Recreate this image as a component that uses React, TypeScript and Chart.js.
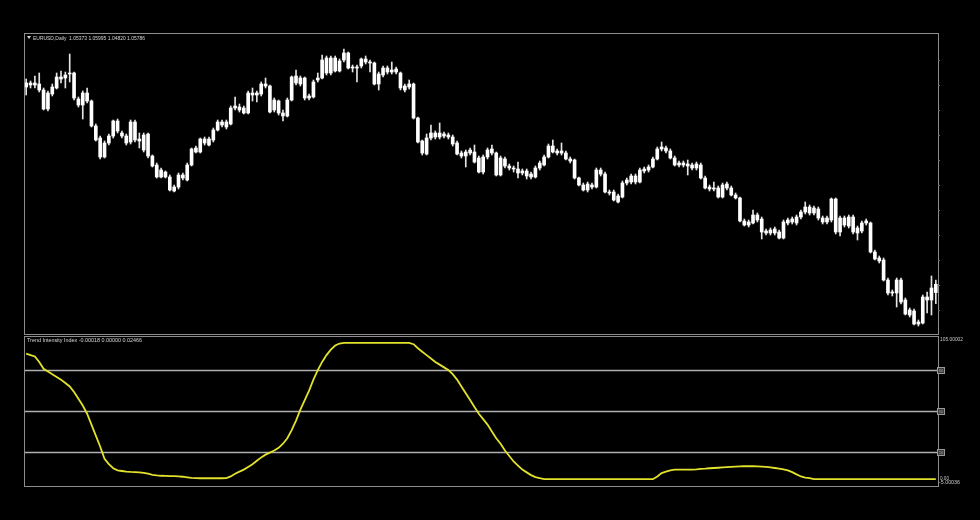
import React, { useEffect, useRef } from "react";
import { Chart, registerables } from "chart.js";

Chart.register(...registerables);

const symbolTitle = "EURUSD,Daily";
const lastBar = ["1.05373", "1.05995", "1.04820", "1.05786"];
const indicatorName = "Trend Intensity Index";
const indicatorValues = ["-0.00018", "0.00000", "0.02466"];

const opens = [
  1.1565, 1.1575, 1.1585, 1.158, 1.155, 1.1535, 1.153, 1.156, 1.1605, 1.161,
  1.163, 1.1635, 1.1505, 1.1475, 1.1495, 1.1495, 1.137, 1.131, 1.1285, 1.1285,
  1.132, 1.1395, 1.1335, 1.132, 1.129, 1.139, 1.1305, 1.125, 1.133, 1.122,
  1.1175, 1.1115, 1.114, 1.1115, 1.1065, 1.1065, 1.1125, 1.11, 1.1175, 1.124,
  1.124, 1.1305, 1.1275, 1.13, 1.135, 1.139, 1.139, 1.138, 1.146, 1.1465,
  1.146, 1.1435, 1.1535, 1.1525, 1.153, 1.158, 1.157, 1.145, 1.1495, 1.1435,
  1.142, 1.15, 1.1585, 1.161, 1.161, 1.152, 1.1515, 1.16, 1.161, 1.171,
  1.1635, 1.171, 1.1645, 1.17, 1.1735, 1.1665, 1.166, 1.167, 1.1705, 1.169,
  1.1685, 1.158, 1.1625, 1.166, 1.164, 1.1655, 1.1635, 1.157, 1.1565, 1.158,
  1.141, 1.1295, 1.123, 1.131, 1.1335, 1.1315, 1.133, 1.1325, 1.1315, 1.1285,
  1.1235, 1.122, 1.1235, 1.124, 1.121, 1.114, 1.1215, 1.1235, 1.1235, 1.1125,
  1.1205, 1.117, 1.116, 1.1155, 1.1135, 1.1145, 1.113, 1.1115, 1.116, 1.1175,
  1.1215, 1.127, 1.1245, 1.1235, 1.1235, 1.1205, 1.12, 1.111, 1.1075, 1.105,
  1.1075, 1.1065, 1.115, 1.113, 1.104, 1.104, 1.102, 1.1015, 1.1085, 1.109,
  1.112, 1.109, 1.1145, 1.115, 1.1165, 1.1205, 1.1255, 1.126, 1.1245, 1.121,
  1.1185, 1.1175, 1.118, 1.1175, 1.116, 1.1175, 1.111, 1.1065, 1.1055, 1.106,
  1.1015, 1.106, 1.106, 1.1025, 1.101, 1.0895, 1.0875, 1.0885, 1.0925, 1.0905,
  1.0845, 1.0835, 1.0835, 1.084, 1.081, 1.0885, 1.089, 1.0885, 1.0915, 1.094,
  1.0965, 1.0935, 1.0955, 1.091, 1.089, 1.09, 1.1005, 1.084, 1.091, 1.087,
  1.0915, 1.086, 1.0845, 1.0885, 1.0885, 1.074, 1.071, 1.07, 1.06, 1.054,
  1.0535, 1.06, 1.05, 1.045, 1.0445, 1.039, 1.0385, 1.0515, 1.05, 1.05373,
];

const highs = [
  1.1605, 1.1595, 1.162, 1.1635, 1.156, 1.1545, 1.158, 1.1635, 1.1645, 1.164,
  1.173, 1.164, 1.1515, 1.1545, 1.156, 1.15, 1.138, 1.132, 1.1295, 1.133,
  1.14, 1.1405, 1.1345, 1.133, 1.14, 1.14, 1.1335, 1.1335, 1.1335, 1.1225,
  1.1185, 1.116, 1.1145, 1.1125, 1.1075, 1.1135, 1.1135, 1.1185, 1.126, 1.127,
  1.131, 1.1315, 1.1315, 1.136, 1.14, 1.14, 1.14, 1.147, 1.1515, 1.148,
  1.147, 1.1545, 1.156, 1.1545, 1.159, 1.161, 1.1575, 1.151, 1.15, 1.145,
  1.151, 1.162, 1.165, 1.162, 1.1615, 1.153, 1.16, 1.1635, 1.1725, 1.172,
  1.172, 1.172, 1.1705, 1.1755, 1.174, 1.1675, 1.1675, 1.171, 1.172, 1.17,
  1.169, 1.164, 1.167, 1.167, 1.169, 1.1665, 1.164, 1.158, 1.16, 1.1585,
  1.1415, 1.13, 1.133, 1.1375, 1.1345, 1.1385, 1.134, 1.1335, 1.1325, 1.1295,
  1.1245, 1.125, 1.126, 1.1275, 1.122, 1.1225, 1.126, 1.1275, 1.124, 1.122,
  1.1215, 1.118, 1.117, 1.119, 1.1155, 1.1155, 1.114, 1.117, 1.1195, 1.1225,
  1.128, 1.13, 1.1255, 1.1285, 1.1245, 1.1215, 1.1205, 1.1115, 1.1085, 1.109,
  1.1085, 1.116, 1.116, 1.114, 1.105, 1.105, 1.103, 1.1095, 1.111, 1.113,
  1.113, 1.116, 1.1165, 1.1175, 1.1215, 1.1265, 1.129, 1.127, 1.1255, 1.122,
  1.1195, 1.1195, 1.12, 1.1185, 1.119, 1.1185, 1.112, 1.1075, 1.109, 1.107,
  1.1085, 1.109, 1.107, 1.1035, 1.1015, 1.0905, 1.09, 1.095, 1.0935, 1.0915,
  1.0855, 1.086, 1.0865, 1.085, 1.09, 1.091, 1.0915, 1.0925, 1.095, 1.099,
  1.0975, 1.097, 1.0965, 1.092, 1.092, 1.101, 1.101, 1.092, 1.092, 1.0925,
  1.0925, 1.087, 1.0895, 1.0905, 1.089, 1.075, 1.072, 1.071, 1.061, 1.055,
  1.061, 1.061, 1.051, 1.046, 1.0455, 1.04, 1.0525, 1.054, 1.062, 1.05995,
];

const lows = [
  1.1525, 1.156, 1.156, 1.154, 1.145, 1.1445, 1.152, 1.1555, 1.1585, 1.156,
  1.159, 1.15, 1.1465, 1.1405, 1.1485, 1.1365, 1.1295, 1.1205, 1.121, 1.1275,
  1.131, 1.1335, 1.131, 1.1275, 1.128, 1.129, 1.126, 1.124, 1.121, 1.1165,
  1.111, 1.111, 1.111, 1.1045, 1.104, 1.1055, 1.11, 1.1095, 1.117, 1.1235,
  1.1235, 1.1275, 1.127, 1.129, 1.1345, 1.1365, 1.1355, 1.1375, 1.145, 1.144,
  1.143, 1.143, 1.1495, 1.149, 1.152, 1.156, 1.1435, 1.144, 1.1425, 1.1395,
  1.1415, 1.1495, 1.1575, 1.157, 1.15, 1.15, 1.151, 1.159, 1.1605, 1.1625,
  1.1625, 1.164, 1.164, 1.169, 1.1655, 1.164, 1.159, 1.166, 1.168, 1.164,
  1.1575, 1.155, 1.1615, 1.163, 1.163, 1.163, 1.155, 1.154, 1.1555, 1.1405,
  1.1285, 1.1225, 1.1225, 1.13, 1.1305, 1.1305, 1.131, 1.1305, 1.127, 1.1225,
  1.121, 1.1165, 1.1225, 1.1185, 1.1135, 1.113, 1.1205, 1.1225, 1.112, 1.112,
  1.116, 1.115, 1.114, 1.111, 1.1125, 1.1105, 1.1105, 1.111, 1.115, 1.117,
  1.121, 1.1235, 1.1225, 1.1225, 1.12, 1.1185, 1.1105, 1.107, 1.1045, 1.104,
  1.1055, 1.106, 1.112, 1.1035, 1.1025, 1.0995, 1.0985, 1.101, 1.1075, 1.108,
  1.108, 1.1085, 1.1135, 1.114, 1.116, 1.12, 1.1245, 1.1235, 1.1205, 1.117,
  1.1165, 1.1165, 1.1125, 1.115, 1.115, 1.1105, 1.1055, 1.1045, 1.1045, 1.101,
  1.101, 1.105, 1.102, 1.1005, 1.089, 1.087, 1.0865, 1.088, 1.089, 1.0805,
  1.0825, 1.0825, 1.0825, 1.0805, 1.0805, 1.0875, 1.088, 1.0875, 1.0905, 1.093,
  1.0925, 1.0925, 1.09, 1.088, 1.088, 1.089, 1.083, 1.082, 1.0865, 1.086,
  1.083, 1.08, 1.0835, 1.0875, 1.0735, 1.07, 1.0685, 1.0595, 1.0525, 1.052,
  1.0465, 1.048, 1.0425, 1.0415, 1.0375, 1.037, 1.038, 1.0435, 1.0425, 1.0482,
];

const closes = [
  1.1585, 1.1585, 1.1575, 1.155, 1.1455, 1.1455, 1.1565, 1.1615, 1.1615, 1.1625,
  1.1635, 1.151, 1.1475, 1.1535, 1.1535, 1.137, 1.13, 1.1215, 1.1215, 1.132,
  1.1395, 1.1345, 1.132, 1.1285, 1.139, 1.13, 1.1295, 1.1325, 1.122, 1.117,
  1.1115, 1.115, 1.1115, 1.105, 1.1045, 1.1125, 1.111, 1.1175, 1.1255, 1.126,
  1.1305, 1.1285, 1.1305, 1.135, 1.139, 1.1375, 1.1365, 1.146, 1.147, 1.145,
  1.1435, 1.1535, 1.1525, 1.1535, 1.158, 1.157, 1.144, 1.15, 1.1435, 1.142,
  1.15, 1.1615, 1.162, 1.158, 1.151, 1.151, 1.159, 1.161, 1.17, 1.1635,
  1.171, 1.1645, 1.1695, 1.1735, 1.166, 1.166, 1.1665, 1.1705, 1.169, 1.1685,
  1.158, 1.163, 1.166, 1.164, 1.165, 1.164, 1.156, 1.155, 1.158, 1.141,
  1.129, 1.1235, 1.131, 1.1335, 1.1315, 1.1335, 1.132, 1.1315, 1.128, 1.123,
  1.122, 1.124, 1.125, 1.119, 1.114, 1.1215, 1.125, 1.1255, 1.1125, 1.121,
  1.117, 1.116, 1.1155, 1.1135, 1.1145, 1.112, 1.1115, 1.116, 1.1185, 1.1215,
  1.127, 1.124, 1.1235, 1.1245, 1.1205, 1.1195, 1.111, 1.1075, 1.105, 1.108,
  1.1065, 1.115, 1.113, 1.104, 1.1035, 1.1, 1.099, 1.1085, 1.11, 1.112,
  1.109, 1.115, 1.1155, 1.1165, 1.1205, 1.1255, 1.1265, 1.1245, 1.121, 1.1175,
  1.1175, 1.1185, 1.117, 1.116, 1.118, 1.111, 1.106, 1.1055, 1.106, 1.1015,
  1.1075, 1.108, 1.1025, 1.101, 1.0895, 1.0875, 1.089, 1.0925, 1.09, 1.084,
  1.0835, 1.085, 1.0855, 1.081, 1.089, 1.09, 1.0905, 1.0915, 1.094, 1.0965,
  1.0935, 1.096, 1.091, 1.089, 1.091, 1.1005, 1.084, 1.091, 1.0875, 1.0915,
  1.084, 1.0835, 1.0885, 1.0895, 1.074, 1.0705, 1.0695, 1.06, 1.0535, 1.0535,
  1.06, 1.049, 1.043, 1.0425, 1.038, 1.038, 1.0515, 1.05, 1.056, 1.05786,
];

const tii = [
  92, 91, 90, 86, 81, 79, 77, 75, 73, 70.5,
  68, 64, 59, 54, 48, 40, 32, 24, 15, 11,
  8, 6.5, 6, 5.5, 5.3, 5.2, 5, 4.7, 4, 3.2,
  2.8, 2.5, 2.4, 2.3, 2.2, 2, 1.8, 1.4, 1, 0.8,
  0.7, 0.7, 0.7, 0.7, 0.7, 0.7, 0.8, 2, 4, 5.5,
  7, 9, 11, 13.5, 16, 18, 19.5, 21, 23, 26,
  30, 36, 43, 51, 58, 65, 73, 80, 86, 91,
  95, 98, 99.5, 100, 100, 100, 100, 100, 100, 100,
  100, 100, 100, 100, 100, 100, 100, 100, 100, 99,
  96, 93.5, 91, 88.5, 86, 84, 82, 80, 77, 73,
  68, 63, 58, 53, 48, 44, 40, 35, 30, 26,
  21, 17, 13, 10, 7, 5, 3, 1.5, 0.7, 0,
  0, 0, 0, 0, 0, 0, 0, 0, 0, 0,
  0, 0, 0, 0, 0, 0, 0, 0, 0, 0,
  0, 0, 0, 0, 0, 2, 4.5, 5.5, 6.5, 7,
  7, 7, 7, 7, 7.2, 7.5, 7.7, 8, 8.2, 8.4,
  8.6, 8.8, 9, 9.2, 9.4, 9.5, 9.5, 9.5, 9.4, 9.2,
  9, 8.6, 8.2, 7.8, 7.2, 6.5, 5.2, 3.5, 2, 1.2,
  0.8, 0, 0, 0, 0, 0, 0, 0, 0, 0,
  0, 0, 0, 0, 0, 0, 0, 0, 0, 0,
  0, 0, 0, 0, 0, 0, 0, 0, 0, 0,
];

const tiiLevels = [20, 50, 80];
const priceTicks = [1.17, 1.1575, 1.145, 1.1325, 1.12, 1.1075, 1.095, 1.0825, 1.07, 1.0575, 1.045];
const priceMin = 1.033;
const priceMax = 1.1835;
const tiiMax = 105.00002;
const tiiMin = -5.00036;
const tiiScaleLabels = ["105.00002", "0.00", "-5.00036"];

const W = 980;
const H = 520;
const PLOT_LEFT = 24;
const PLOT_RIGHT = 938;
const MAIN_TOP = 33;
const MAIN_BOTTOM = 334;
const IND_TOP = 336;
const IND_BOTTOM = 486;

const FRAME = "#8c8c8c";
const TEXT = "#d6d6d6";
const FONT = '"Liberation Sans", Arial, sans-serif';

const dates = opens.map((_, i) => `D${i + 1}`);

function drawFitText(ctx: CanvasRenderingContext2D, text: string, x: number, y: number, size: number, maxW: number) {
  ctx.font = `${size}px ${FONT}`;
  ctx.fillText(text, x, y, maxW);
}

const mainFramePlugin = {
  id: "mainFrame",
  afterDraw(chart: any) {
    const ctx: CanvasRenderingContext2D = chart.ctx;
    const { left, right, top, bottom } = chart.chartArea;
    ctx.save();
    ctx.strokeStyle = FRAME;
    ctx.lineWidth = 1;
    ctx.strokeRect(Math.round(left) + 0.5, Math.round(top) + 0.5, Math.round(right - left), Math.round(bottom - top));
    const ys = chart.scales.y;
    ctx.strokeStyle = "#6e6e6e";
    priceTicks.forEach((p) => {
      const py = Math.round(ys.getPixelForValue(p)) + 0.5;
      ctx.beginPath();
      ctx.moveTo(right, py);
      ctx.lineTo(right + 2, py);
      ctx.stroke();
    });
    // title
    ctx.fillStyle = TEXT;
    ctx.beginPath();
    ctx.moveTo(left + 3, top + 3);
    ctx.lineTo(left + 7, top + 3);
    ctx.lineTo(left + 5, top + 6);
    ctx.closePath();
    ctx.fill();
    ctx.textBaseline = "alphabetic";
    ctx.textAlign = "left";
    drawFitText(ctx, `${symbolTitle}  ${lastBar.join(" ")}`, left + 9, top + 6.5, 6, 112);
    ctx.restore();
  },
};

const indFramePlugin = {
  id: "indFrame",
  beforeDatasetsDraw(chart: any) {
    const ctx: CanvasRenderingContext2D = chart.ctx;
    const { left, right } = chart.chartArea;
    const ys = chart.scales.y;
    ctx.save();
    ctx.strokeStyle = "#b0b0b0";
    ctx.lineWidth = 1.6;
    tiiLevels.forEach((lv) => {
      const py = Math.round(ys.getPixelForValue(lv)) + 0.5;
      ctx.beginPath();
      ctx.moveTo(left, py);
      ctx.lineTo(right, py);
      ctx.stroke();
    });
    ctx.restore();
  },
  afterDraw(chart: any) {
    const ctx: CanvasRenderingContext2D = chart.ctx;
    const { left, right, top, bottom } = chart.chartArea;
    const ys = chart.scales.y;
    ctx.save();
    ctx.strokeStyle = FRAME;
    ctx.lineWidth = 1;
    ctx.strokeRect(Math.round(left) + 0.5, Math.round(top) + 0.5, Math.round(right - left), Math.round(bottom - top));
    // level boxes
    tiiLevels.forEach((lv) => {
      const py = Math.round(ys.getPixelForValue(lv));
      ctx.fillStyle = "#3c3c3c";
      ctx.fillRect(right - 1, py - 3, 8, 7);
      ctx.strokeStyle = "#9a9a9a";
      ctx.strokeRect(right - 0.5, py - 2.5, 7, 6);
      ctx.fillStyle = "#a0a0a0";
      ctx.textAlign = "center";
      ctx.textBaseline = "middle";
      ctx.font = `4px ${FONT}`;
      ctx.fillText(String(lv), right + 3, py + 0.5);
    });
    ctx.fillStyle = TEXT;
    ctx.textAlign = "left";
    ctx.textBaseline = "alphabetic";
    drawFitText(ctx, `${indicatorName} ${indicatorValues.join(" ")}`, left + 3, top + 5.5, 6, 115);
    ctx.fillStyle = "#c8c8c8";
    drawFitText(ctx, tiiScaleLabels[0], right + 2, top + 4.5, 5.5, 23);
    drawFitText(ctx, tiiScaleLabels[1], right + 2, ys.getPixelForValue(0) + 0.5, 5.5, 9);
    drawFitText(ctx, tiiScaleLabels[2], right + 1, bottom - 2, 5.5, 21);
    ctx.restore();
  },
};

export default function App() {
  const mainRef = useRef<HTMLCanvasElement | null>(null);
  const indRef = useRef<HTMLCanvasElement | null>(null);

  useEffect(() => {
    document.body.style.background = "#000";
    const wicks = lows.map((l, i) => [l, highs[i]]);
    const bodies = opens.map((o, i) => [Math.min(o, closes[i]), Math.max(o, closes[i])]);
    const main = new Chart(mainRef.current as HTMLCanvasElement, {
      type: "bar",
      data: {
        labels: dates,
        datasets: [
          {
            label: "body",
            data: bodies as any,
            backgroundColor: "#ffffff",
            borderWidth: 0,
            barThickness: 3,
            minBarLength: 1,
            grouped: false,
            order: 0,
          } as any,
          {
            label: "wick",
            data: wicks as any,
            backgroundColor: "#e4e4e4",
            borderWidth: 0,
            barThickness: 1,
            grouped: false,
            order: 1,
          } as any,
        ],
      },
      options: {
        responsive: false,
        animation: false,
        events: [],
        layout: { padding: { left: PLOT_LEFT, right: W - PLOT_RIGHT, top: MAIN_TOP, bottom: H - MAIN_BOTTOM } },
        plugins: { legend: { display: false }, tooltip: { enabled: false } },
        scales: {
          x: { display: false, offset: true },
          y: { display: false, min: priceMin, max: priceMax },
        },
      },
      plugins: [mainFramePlugin],
    });

    const ind = new Chart(indRef.current as HTMLCanvasElement, {
      type: "line",
      data: {
        labels: dates,
        datasets: [
          {
            label: indicatorName,
            data: tii,
            borderColor: "#e2e22c",
            borderWidth: 1.8,
            pointRadius: 0,
            tension: 0,
            fill: false,
          },
        ],
      },
      options: {
        responsive: false,
        animation: false,
        events: [],
        layout: { padding: { left: PLOT_LEFT, right: W - PLOT_RIGHT, top: IND_TOP, bottom: H - IND_BOTTOM } },
        plugins: { legend: { display: false }, tooltip: { enabled: false } },
        scales: {
          x: { display: false, offset: true },
          y: { display: false, min: tiiMin, max: tiiMax },
        },
      },
      plugins: [indFramePlugin],
    });

    return () => {
      main.destroy();
      ind.destroy();
    };
  }, []);

  return (
    <div style={{ position: "fixed", left: 0, top: 0, width: W, height: H, background: "#000", overflow: "hidden" }}>
      <canvas ref={mainRef} width={W} height={H} style={{ position: "absolute", left: 0, top: 0 }} />
      <canvas ref={indRef} width={W} height={H} style={{ position: "absolute", left: 0, top: 0 }} />
    </div>
  );
}
